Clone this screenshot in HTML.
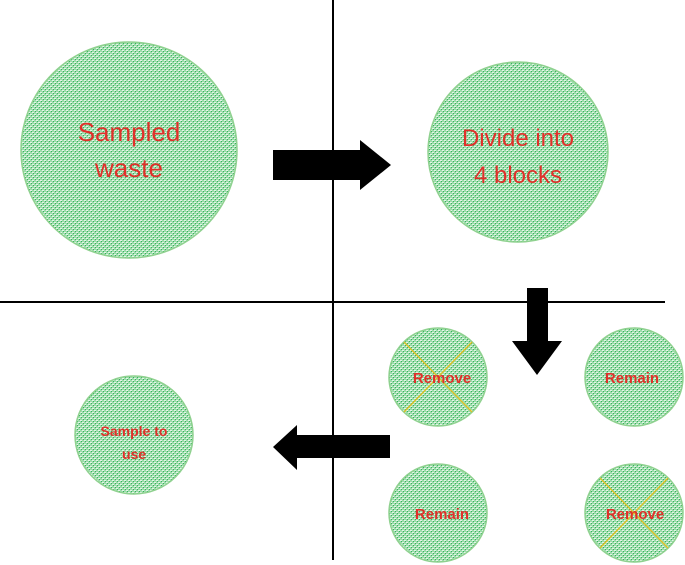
<!DOCTYPE html>
<html><head><meta charset="utf-8"><style>
html,body{margin:0;padding:0;background:#fff;width:685px;height:565px;overflow:hidden}
text{font-family:"Liberation Sans",sans-serif;fill:#e0302a;text-anchor:middle}
</style></head><body>
<svg width="685" height="565" viewBox="0 0 685 565" xmlns="http://www.w3.org/2000/svg">
<defs>
<pattern id="p" width="4" height="4" patternUnits="userSpaceOnUse">
<rect width="4" height="4" fill="#9bdcaa"/>
<rect x="0" y="0" width="2" height="1" fill="#e3f5e6"/>
<rect x="2" y="2" width="2" height="1" fill="#e3f5e6"/>
<rect x="1" y="1" width="1" height="1" fill="#36b25c"/>
<rect x="3" y="3" width="1" height="1" fill="#36b25c"/>
</pattern>
</defs>
<line x1="333" y1="0" x2="333" y2="560" stroke="#000" stroke-width="2"/>
<line x1="0" y1="302" x2="665" y2="302" stroke="#000" stroke-width="2"/>
<g fill="url(#p)" stroke="#8fd18f" stroke-width="1.5">
<circle cx="129" cy="150" r="108"/>
<circle cx="518" cy="152" r="90"/>
<circle cx="134" cy="435" r="59"/>
<circle cx="438" cy="377" r="49"/>
<circle cx="634" cy="377" r="49"/>
<circle cx="438" cy="513" r="49"/>
<circle cx="634" cy="513" r="49"/>
</g>
<g stroke="#e0c020" stroke-width="1.3">
<line x1="404" y1="342" x2="472" y2="412"/><line x1="472" y1="342" x2="404" y2="412"/>
<line x1="600" y1="478" x2="668" y2="548"/><line x1="668" y1="478" x2="600" y2="548"/>
</g>
<polygon fill="#000" points="273,150 360,150 360,140 391,165 360,190 360,180 273,180"/>
<polygon fill="#000" points="527,288 548,288 548,341 562,341 537,375 512,341 527,341"/>
<polygon fill="#000" points="390,435 297,435 297,425 273,447 297,470 297,458 390,458"/>
<text x="129" y="141" font-size="26">Sampled</text>
<text x="129" y="177" font-size="26">waste</text>
<text x="518" y="146" font-size="24">Divide into</text>
<text x="518" y="183" font-size="24">4 blocks</text>
<text x="134" y="436" font-size="14" font-weight="bold">Sample to</text>
<text x="134" y="459" font-size="14" font-weight="bold">use</text>
<text x="442" y="383" font-size="15" font-weight="bold">Remove</text>
<text x="632" y="383" font-size="15" font-weight="bold">Remain</text>
<text x="442" y="519" font-size="15" font-weight="bold">Remain</text>
<text x="635" y="519" font-size="15" font-weight="bold">Remove</text>
</svg>
</body></html>
